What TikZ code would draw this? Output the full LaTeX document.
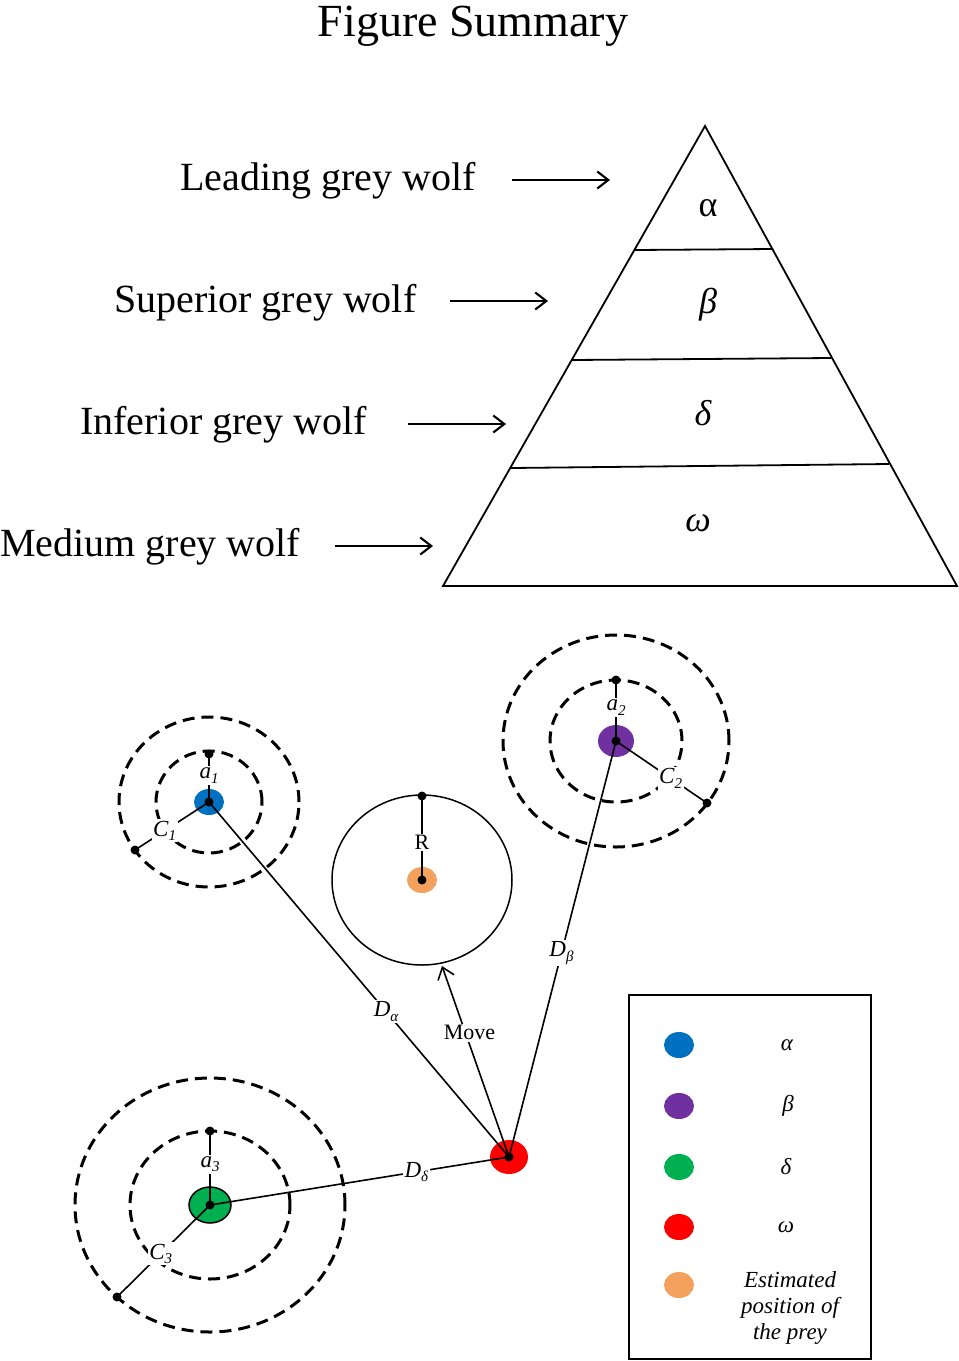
\documentclass[tikz,border=0pt]{standalone}
\usepackage{fontspec}
\setmainfont{Liberation Serif}
\usetikzlibrary{arrows.meta,shapes.geometric}
\definecolor{wblue}{HTML}{0070C0}
\definecolor{wpurple}{HTML}{7030A0}
\definecolor{wgreen}{HTML}{00B050}
\definecolor{wred}{HTML}{FF0000}
\definecolor{worange}{HTML}{F4A15D}
\newcommand{\subx}[2]{#1\raisebox{-0.2em}{\fontsize{15}{15}\selectfont #2}}
\begin{document}
\begin{tikzpicture}[x=1pt,y=-1pt,
  big/.style={font=\fontsize{40}{48}\selectfont, anchor=base west, inner sep=0pt},
  greek/.style={font=\fontsize{36}{40}\selectfont, inner sep=0pt},
  arr/.style={line width=2.1pt, -{Straight Barb[length=11pt,width=17pt,line width=2.1pt]}},
  dashc/.style={line width=3pt, dash pattern=on 12pt off 7pt},
  wolf/.style={ellipse, minimum width=30pt, minimum height=26pt, inner sep=0pt},
  bdot/.style={circle, fill=black, minimum size=9pt, inner sep=0pt},
  thinl/.style={line width=1.6pt},
  lbl/.style={fill=white, inner sep=1.5pt, font=\fontsize{23}{23}\selectfont\itshape},
  legtxt/.style={font=\fontsize{23}{26}\selectfont\itshape, align=center, inner sep=0pt}
]
\useasboundingbox (0,0) rectangle (959,1361);

% title
\node[font=\fontsize{46}{50}\selectfont, anchor=base, inner sep=0pt] (title) at (473,36) {Figure Summary};

% pyramid
\coordinate (apex) at (705,126);
\coordinate (bl) at (443,586);
\coordinate (br) at (957,586);
\draw[line width=1.8pt, line join=miter] (apex) -- (bl) -- (br) -- cycle;
\coordinate (d1l) at (635,250); \coordinate (d1r) at (773,249);
\coordinate (d2l) at (572,360); \coordinate (d2r) at (831,358);
\coordinate (d3l) at (511,468); \coordinate (d3r) at (889,464);
\draw[line width=1.8pt] (d1l) -- (d1r);
\draw[line width=1.8pt] (d2l) -- (d2r);
\draw[line width=1.8pt] (d3l) -- (d3r);
\node[greek] (ga) at (708,208) {α};
\node[greek] (gb) at (708,305) {\itshape β};
\node[greek] (gd) at (703,413) {\itshape δ};
\node[greek] (go) at (698,523) {\itshape ω};

% rank labels and arrows
\node[big] (l1) at (180,190) {Leading grey wolf};
\node[big] (l2) at (114,312) {Superior grey wolf};
\node[big] (l3) at (80,434) {Inferior grey wolf};
\node[big] (l4) at (0,556) {Medium grey wolf};
\coordinate (a1s) at (512,180); \coordinate (a1e) at (610,180);
\coordinate (a2s) at (450,301); \coordinate (a2e) at (548,301);
\coordinate (a3s) at (408,424); \coordinate (a3e) at (506,424);
\coordinate (a4s) at (335,546); \coordinate (a4e) at (433,546);
\draw[arr] (a1s) -- (a1e);
\draw[arr] (a2s) -- (a2e);
\draw[arr] (a3s) -- (a3e);
\draw[arr] (a4s) -- (a4e);

% centres
\coordinate (ca) at (209,802);
\coordinate (cb) at (616,741);
\coordinate (cd) at (210,1205);
\coordinate (cp) at (422,880);
\coordinate (co) at (509,1157);

% dashed circles
\draw[dashc] (ca) ellipse [x radius=53pt, y radius=51pt];
\draw[dashc] (ca) ellipse [x radius=90pt, y radius=85pt];
\draw[dashc] (cb) ellipse [x radius=66pt, y radius=61pt];
\draw[dashc] (cb) ellipse [x radius=113pt, y radius=106pt];
\draw[dashc] (cd) ellipse [x radius=80pt, y radius=74pt];
\draw[dashc] (cd) ellipse [x radius=135pt, y radius=127pt];
% prey circle
\draw[line width=1.5pt] (cp) ellipse [x radius=90pt, y radius=85pt];

% coloured wolves
\node[wolf, fill=wblue] (wa) at (ca) {};
\node[wolf, fill=wpurple, minimum width=36pt, minimum height=32pt] (wb) at (cb) {};
\node[wolf, fill=wgreen, draw=black, line width=1.5pt, minimum width=42pt, minimum height=36pt] (wd) at (cd) {};
\node[wolf, fill=worange] (wp) at (cp) {};
\node[wolf, fill=wred, minimum width=38pt, minimum height=34pt] (wo) at (co) {};

% end dots
\node[bdot] (ta) at (209,754) {};
\node[bdot] (sa) at (135,850) {};
\node[bdot] (tb) at (616,680) {};
\node[bdot] (sb) at (707,803) {};
\node[bdot] (td) at (210,1131) {};
\node[bdot] (sd) at (117,1297) {};
\node[bdot] (tp) at (422,796) {};
\coordinate (mv) at (442,966);

% radius lines with labels
\draw[thinl] (ca) -- node[lbl, pos=0.55] {\subx{a}{1}} (ta.center);
\draw[thinl] (ca) -- node[lbl, pos=0.6] {\subx{C}{1}} (sa.center);
\draw[thinl] (cb) -- node[lbl, pos=0.55] {\subx{a}{2}} (tb.center);
\draw[thinl] (cb) -- node[lbl, pos=0.6] {\subx{C}{2}} (sb.center);
\draw[thinl] (cd) -- node[lbl, pos=0.55] {\subx{a}{3}} (td.center);
\draw[thinl] (cd) -- node[lbl, pos=0.53] {\subx{C}{3}} (sd.center);
\draw[thinl] (cp) -- node[lbl, pos=0.45, font=\fontsize{22}{22}\selectfont] {R} (tp.center);

% distance lines
\draw[thinl] (co) -- node[lbl, pos=0.41] {\subx{D}{α}} (ca);
\draw[thinl] (co) -- node[lbl, pos=0.49] {\subx{D}{β}} (cb);
\draw[thinl] (co) -- node[lbl, pos=0.31] {\subx{D}{δ}} (cd);
\draw[thinl, -{Straight Barb[length=11pt,width=17pt,line width=1.6pt]}] (co) -- node[lbl, pos=0.65, xshift=4pt, font=\fontsize{22}{22}\selectfont] {Move} (mv);

% centre dots
\node[bdot] (ka) at (ca) {};
\node[bdot] (kb) at (cb) {};
\node[bdot] (kd) at (cd) {};
\node[bdot] (kp) at (cp) {};
\node[bdot] (ko) at (co) {};

% legend
\draw[line width=1.5pt] (629,995) rectangle (871,1359);
\node[wolf, fill=wblue] (la) at (679,1045) {};
\node[wolf, fill=wpurple] (lb) at (679,1106) {};
\node[wolf, fill=wgreen] (ld) at (679,1167) {};
\node[wolf, fill=wred] (lo) at (679,1227) {};
\node[wolf, fill=worange] (lp) at (679,1285) {};
\node[legtxt] (ta1) at (787,1045) {α};
\node[legtxt] (tb1) at (788,1106) {β};
\node[legtxt] (td1) at (786,1167) {δ};
\node[legtxt] (to1) at (786,1227) {ω};
\node[legtxt] (tp1) at (790,1308) {Estimated\\position of\\the prey};
\end{tikzpicture}
\end{document}
